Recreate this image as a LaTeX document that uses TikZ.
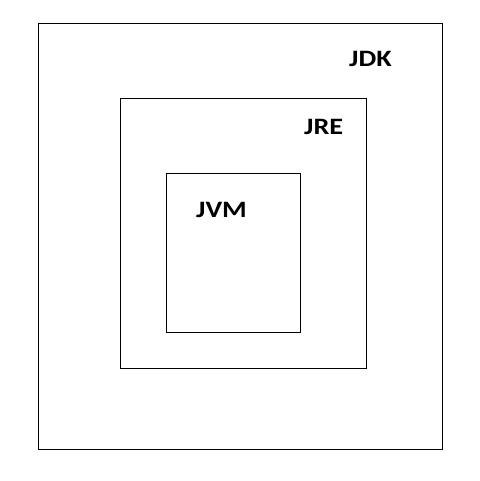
\documentclass[tikz,border=0pt]{standalone}
\usepackage{fontspec}
\usepackage{graphicx}
\setmainfont{Carlito}
\begin{document}
\begin{tikzpicture}[x=1pt,y=-1pt,
  box/.style={draw=black,line width=1pt},
  lbl/.style={font=\bfseries\fontsize{23.5}{26}\selectfont,inner sep=0pt,anchor=base west}]
\useasboundingbox (0,0) rectangle (479,481);
\draw[box] (38.5,23.5) rectangle (442.5,449.5);
\draw[box] (120.5,98.5) rectangle (366.5,368.5);
\draw[box] (166.5,173.5) rectangle (300.5,332.5);
\node[lbl] (jdk) at (349,67) {\scalebox{1.2}[1]{JDK}};
\node[lbl] (jre) at (304,135) {\scalebox{1.2}[1]{JRE}};
\node[lbl] (jvm) at (196,217) {\scalebox{1.2}[1]{JVM}};
\end{tikzpicture}
\end{document}
